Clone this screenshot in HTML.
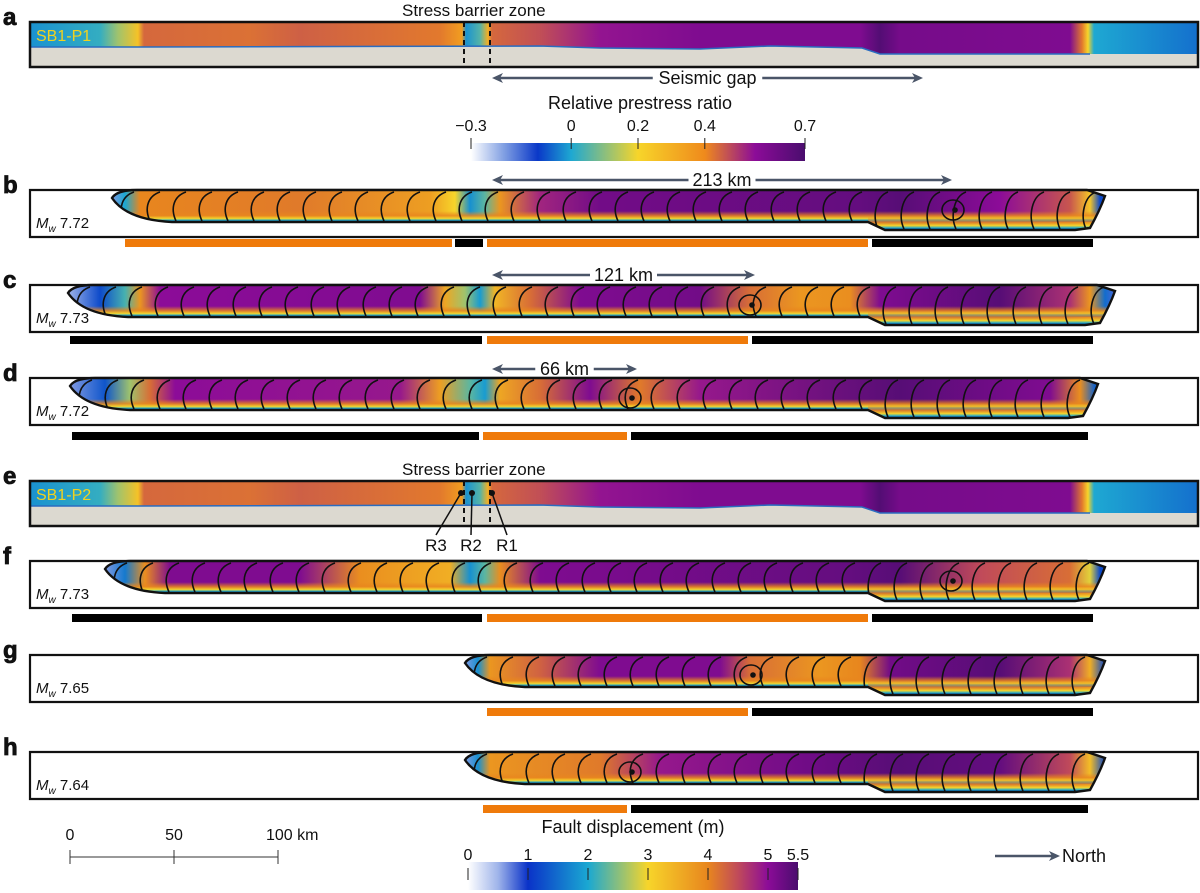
<!DOCTYPE html>
<html><head><meta charset="utf-8"><style>
html,body{margin:0;padding:0;background:#fff;}
svg{display:block;font-family:"Liberation Sans",sans-serif;}
</style></head><body>
<svg id="fig" width="1200" height="893" viewBox="0 0 1200 893" xmlns="http://www.w3.org/2000/svg">
<defs id="defs"></defs>
<g id="root"></g>
</svg>
<script>
// ---- data ----
const panelLetters = ["a","b","c","d","e","f","g","h"];
const panelTops = [22,190,285,378,481,561,655,752];
const mwLabels = [null,"7.72","7.73","7.72",null,"7.73","7.65","7.64"];
// along-strike displacement (m) stops: [x, value]
const slipB = [[112,0.6],[125,2],[140,4.0],[300,4.1],[430,3.7],[455,3.0],[470,1.8],[485,2.3],[500,3.8],[540,4.8],[600,5.2],[860,5.3],[900,5.4],[1000,5.0],[1070,4.4],[1090,3.2],[1100,1.2]];
const slipC = [[68,0.5],[100,1.2],[125,2.2],[140,3.8],[160,5.0],[420,5.1],[445,3.6],[465,2.6],[480,1.9],[495,3.4],[530,4.2],[580,5.1],[700,5.2],[750,4.2],[800,3.8],[850,3.9],[880,5.1],[1000,5.4],[1070,4.7],[1090,3.8],[1105,1.5],[1115,0.8]];
const slipD = [[70,0.6],[105,1.3],[130,2.6],[150,4.2],[175,5.0],[400,4.9],[440,3.7],[470,2.3],[485,1.9],[500,3.6],[540,4.2],[590,5.1],[640,4.1],[700,4.9],[900,5.4],[1050,5.1],[1080,3.9],[1095,1.4]];
const slipF = [[105,0.6],[125,1.6],[145,3.9],[170,5.1],[300,5.1],[360,3.9],[450,3.5],[470,1.8],[485,2.3],[500,3.9],[540,5.1],[850,5.3],[900,5.4],[980,4.5],[1070,4.2],[1090,2.9],[1100,1.2]];
const slipG = [[465,0.6],[478,1.8],[490,3.8],[540,4.3],[600,5.1],[720,5.1],[750,4.2],[820,3.8],[860,4.0],[890,5.2],[1000,5.4],[1070,4.7],[1090,3.5],[1105,1.2]];
const slipH = [[465,0.6],[478,1.8],[490,3.8],[600,4.1],[660,4.9],[800,5.2],[900,5.4],[1000,5.3],[1070,4.5],[1090,3.3],[1105,1.2]];
const slips = [null,slipB,slipC,slipD,null,slipF,slipG,slipH];
const rupStart = [null,112,68,70,null,105,465,465];
const rupEnd = [null,1105,1115,1098,null,1105,1105,1105];
const hypoX = [null,955,752,632,null,953,753,632];
// segment bars [x0,x1,color]
const barsB = [[125,452,"o"],[455,483,"k"],[487,868,"o"],[872,1093,"k"]];
const barsC = [[70,482,"k"],[487,748,"o"],[752,1093,"k"]];
const barsD = [[72,479,"k"],[483,627,"o"],[631,1088,"k"]];
const barsF = [[72,482,"k"],[487,868,"o"],[872,1093,"k"]];
const barsG = [[487,748,"o"],[752,1093,"k"]];
const barsH = [[483,627,"o"],[631,1088,"k"]];
const bars = [null,barsB,barsC,barsD,null,barsF,barsG,barsH];
const barY = [null,243,340,436,null,618,712,809];
// prestress stops [x, ratio]
const prestress = [[30,-0.02],[100,0.02],[118,0.12],[138,0.25],[144,0.44],[250,0.43],[300,0.45],[440,0.42],[462,0.35],[466,-0.02],[480,0.05],[488,0.3],[492,0.44],[540,0.47],[600,0.54],[700,0.58],[860,0.58],[880,0.68],[900,0.6],[1070,0.58],[1082,0.42],[1088,0.2],[1094,0.0],[1198,-0.05]];
const psTicks = [-0.3,0,0.2,0.4,0.7];
const dispTicks = [0,1,2,3,4,5,5.5];
const spans = [[1,"213 km",492,952,180],[2,"121 km",492,755,275],[3,"66 km",492,637,369]];

// ---- colour maps ----
const dispMap = [[0,"#ffffff"],[0.5,"#9fb4ea"],[1,"#0a32c8"],[2,"#1aa8d2"],[3,"#f7d52a"],[4,"#e8861e"],[4.5,"#c04a5a"],[5,"#8c0c98"],[5.5,"#4a0d6e"]];
const psMap = [[-0.3,"#ffffff"],[-0.2,"#7f9ee2"],[-0.1,"#0a38c8"],[0,"#1ea8d2"],[0.2,"#f7d52a"],[0.4,"#ef8a1c"],[0.55,"#8c0c98"],[0.7,"#4a0d6e"]];
function hex(h){return [1,3,5].map(i=>parseInt(h.substr(i,2),16));}
function cmap(m,v){
  if(v<=m[0][0])return m[0][1];
  for(let i=1;i<m.length;i++){ if(v<=m[i][0]){
    const t=(v-m[i-1][0])/(m[i][0]-m[i-1][0]);const a=hex(m[i-1][1]),b=hex(m[i][1]);
    return "rgb("+a.map((c,k)=>Math.round(c+(b[k]-c)*t)).join(",")+")";}}
  return m[m.length-1][1];
}
const NS="http://www.w3.org/2000/svg";
const root=document.getElementById("root"),defs=document.getElementById("defs");
function el(tag,attrs,parent){const e=document.createElementNS(NS,tag);for(const k in attrs)e.setAttribute(k,attrs[k]);(parent||root).appendChild(e);return e;}
function hgrad(id,stops,x0,x1,map){
  const g=el("linearGradient",{id:id,gradientUnits:"userSpaceOnUse",x1:x0,x2:x1,y1:0,y2:0},defs);
  stops.forEach(s=>el("stop",{offset:((s[0]-x0)/(x1-x0)),"stop-color":cmap(map,s[1])},g));
}
function text(x,y,s,size,attrs,name){const t=el("text",Object.assign({x:x,y:y,"font-size":size,fill:"#111"},attrs||{}));t.textContent=s;
  
  
  return t;}
function arrowHead(x,y,dir,col){el("path",{d:`M${x},${y} l${-dir*11},-5 l${dir*3},5 l${-dir*3},5 z`,fill:col});}
function dblArrow(x0,x1,y,label,name){
  const col="#4a5568";const w=label.length*8.5+16;const mid=(x0+x1)/2;
  const g=el("g",{});
  
  
  el("line",{x1:x0+4,x2:mid-w/2,y1:y,y2:y,stroke:col,"stroke-width":2.5},g);
  el("line",{x1:mid+w/2,x2:x1-4,y1:y,y2:y,stroke:col,"stroke-width":2.5},g);
  arrowHead(x0,y,-1,col);arrowHead(x1,y,1,col);
  text(mid,y+6,label,18,{"text-anchor":"middle"},name+"-label");
}
function psX(v){return 471+(v+0.3)/1.0*334;}
function dX(v){return 468+v/5.5*330;}

// ---- panels ----
panelLetters.forEach((L,i)=>{
  const top=panelTops[i];
  text(3,top+3,L,24,{"font-weight":"bold",stroke:"#111","stroke-width":0.8},"panel-label-"+L);
  const g=el("g",{});
  
  
  if(L==="a"||L==="e"){
    hgrad("ps"+L,prestress,30,1198,psMap);
    el("rect",{x:30,y:top,width:1168,height:45,fill:"#dcd9d0"},g);
    const d=`M30,${top} H1198 V${top+32} H1090 L880,${top+32} L862,${top+26} L770,${top+24} L700,${top+27} L600,${top+26} L540,${top+24} L144,${top+25} L30,${top+25} Z`;
    el("path",{d:d,fill:"url(#ps"+L+")"},g);
    el("path",{d:`M30,${top+25} L144,${top+25} L540,${top+24} L600,${top+26} L700,${top+27} L770,${top+24} L862,${top+26} L880,${top+32} L1090,${top+32}`,fill:"none",stroke:"#2a6cc0","stroke-width":1.5},g);
    el("rect",{x:30,y:top,width:1168,height:45,fill:"none",stroke:"#111","stroke-width":2.5},g);
    [464,490].forEach(x=>el("line",{x1:x,x2:x,y1:top,y2:top+45,stroke:"#111","stroke-width":2,"stroke-dasharray":"5,4"},g));
    text(36,top+19,L==="a"?"SB1-P1":"SB1-P2",16,{fill:"#f2d21e"},"model-name-"+L);
    text(402,top-6,"Stress barrier zone",17,{},"stress-barrier-label-"+L);
    return;
  }
  el("path",{d:`M30,${top} H1198 V${top+47} H30 Z`,fill:"#fff",stroke:"#111","stroke-width":2.2},g);
  const x0=rupStart[i],x1=rupEnd[i];
  hgrad("sl"+L,slips[i],x0,x1,dispMap);
  const b1=top+32,b2=top+40;
  const shape=`M${x0},${top+8} Q${x0+5},${top} ${x0+25},${top} H${x1-18} L${x1},${top+6} Q${x1-5},${top+20} ${x1-15},${b2-2} L${x1-30},${b2} H885 L868,${b1} H${x0+60} Q${x0+15},${b1-2} ${x0},${top+8} Z`;
  const cp=el("clipPath",{id:"cp"+L},defs);
  el("path",{d:shape},cp);
  el("path",{d:shape,fill:"url(#sl"+L+")"},g);
  if(!document.getElementById("vfade")){
    const vg=el("linearGradient",{id:"vfade",x1:0,x2:0,y1:0,y2:1},defs);
    [[0,"#e8861e",0],[0.66,"#e8861e",0],[0.8,"#e8861e",0.85],[0.89,"#f7d52a",1],[0.95,"#1aa8d2",1],[1,"#0a32c8",1]].forEach(s=>el("stop",{offset:s[0],"stop-color":s[1],"stop-opacity":s[2]},vg));
  }
  const cg=el("g",{"clip-path":"url(#cp"+L+")"},g);
  el("rect",{x:x0,y:top,width:x1-x0,height:b1-top,fill:"url(#vfade)"},cg);
  el("rect",{x:868,y:top,width:x1-868,height:b2-top,fill:"url(#vfade)"},cg);
  for(let x=x0+18;x<x1-8;x+=26){
    const bb=x>872?b2:b1;
    el("path",{d:`M${x+4},${top+2} C${x-8},${top+6} ${x-12},${bb-14} ${x-6},${bb-1}`,fill:"none",stroke:"#111","stroke-width":1.6},cg);
  }
  el("path",{d:shape,fill:"none",stroke:"#111","stroke-width":2.4},g);
  const hy=top+20;
  el("ellipse",{cx:hypoX[i]-2,cy:hy,rx:11,ry:10,fill:"none",stroke:"#111","stroke-width":1.6},g);
  el("circle",{cx:hypoX[i],cy:hy,r:2.8,fill:"#111"},g);
  const t=text(36,top+38,"",15,{},"magnitude-"+L);
  const m=document.createElementNS(NS,"tspan");m.setAttribute("font-style","italic");m.textContent="M";t.appendChild(m);
  const w=document.createElementNS(NS,"tspan");w.setAttribute("font-style","italic");w.setAttribute("font-size","10");w.setAttribute("dy","4");w.textContent="w";t.appendChild(w);
  const v=document.createElementNS(NS,"tspan");v.setAttribute("dy","-4");v.textContent=" "+mwLabels[i];t.appendChild(v);
  bars[i].forEach((s,k)=>{
    const r=el("rect",{x:s[0],y:barY[i]-4,width:s[1]-s[0],height:8,fill:s[2]==="o"?"#ef7a0a":"#000"});
    
    
  });
});
const eTop=panelTops[4];
[[461,436,"R3"],[472,471,"R2"],[492,507,"R1"]].forEach(r=>{
  el("circle",{cx:r[0],cy:eTop+12,r:3,fill:"#111"});
  el("line",{x1:r[0],y1:eTop+12,x2:r[1],y2:eTop+54,stroke:"#111","stroke-width":1.5});
  text(r[1],eTop+70,r[2],17,{"text-anchor":"middle"},"receiver-"+r[2]);
});
dblArrow(492,923,78,"Seismic gap","seismic-gap-arrow");
spans.forEach(s=>dblArrow(s[2],s[3],s[4],s[1],"rupture-span-"+panelLetters[s[0]]));

hgrad("psbar",[[-0.3,-0.3],[-0.2,-0.2],[-0.1,-0.1],[0,0],[0.2,0.2],[0.4,0.4],[0.55,0.55],[0.7,0.7]].map(s=>[psX(s[0]),s[1]]),psX(-0.3),psX(0.7),psMap);
const pb=el("rect",{x:psX(-0.3),y:143,width:334,height:18,fill:"url(#psbar)"});


text(640,109,"Relative prestress ratio",18,{"text-anchor":"middle"},"prestress-colorbar-title");
psTicks.forEach(v=>{el("line",{x1:psX(v),x2:psX(v),y1:138,y2:149,stroke:"#222","stroke-width":1});
  text(psX(v),131,(v<0?"\u22120.3":String(v)),16,{"text-anchor":"middle"},"prestress-tick");});

hgrad("dbar",[0,0.5,1,2,3,4,4.5,5,5.5].map(v=>[dX(v),v]),dX(0),dX(5.5),dispMap);
const db=el("rect",{x:dX(0),y:862,width:330,height:28,fill:"url(#dbar)"});


text(633,833,"Fault displacement (m)",18,{"text-anchor":"middle"},"displacement-colorbar-title");
dispTicks.forEach(v=>{el("line",{x1:dX(v),x2:dX(v),y1:868,y2:880,stroke:"#222","stroke-width":1});
  text(dX(v),860,String(v),16,{"text-anchor":"middle"},"displacement-tick");});

const sb=el("g",{});


el("line",{x1:70,x2:278,y1:857,y2:857,stroke:"#333","stroke-width":1},sb);
[[70,"0"],[174,"50"],[278,"100 km"]].forEach(s=>{el("line",{x1:s[0],x2:s[0],y1:850,y2:864,stroke:"#333","stroke-width":1},sb);
  text(s[0]-(s[1].length>3?12:0),840,s[1],16,{"text-anchor":s[1].length>3?"start":"middle"},"scale-tick");});
el("line",{x1:995,x2:1052,y1:856,y2:856,stroke:"#4a5568","stroke-width":2.5});
arrowHead(1060,856,1,"#4a5568");
text(1062,862,"North",18,{},"north-label");
</script>
</body></html>
